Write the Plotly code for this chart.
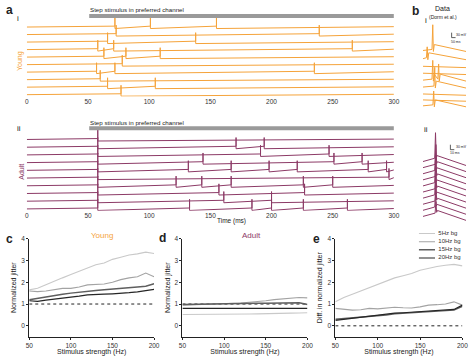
import plotly.graph_objects as go

W, H = 474, 356
FONT = "Liberation Sans, Arial, sans-serif"
ORANGE = "#F5A33A"
PURPLE = "#8C3A66"

# ---------------- data ----------------
# panel a: spike times (ms) of 10 model neurons per group
young_spikes = [
    [72, 101, 155],
    [73, 239],
    [66, 138],
    [58, 71, 266],
    [63, 81, 109],
    [78],
    [57, 72, 235],
    [60],
    [66, 105],
    [77],
]
adult_spikes = [
    [58],
    [58, 171, 194],
    [58, 191, 247],
    [58, 144, 251, 274],
    [58, 132, 167, 198, 221, 279, 294],
    [58, 296],
    [58, 122, 143, 167, 226, 250],
    [58, 157, 227],
    [58, 161, 200],
    [58, 133, 184, 200, 226, 262],
]
stim_onset = 51
trial_end = 300
time_ticks = [0, 50, 100, 150, 200, 250, 300]

# panel b: recorded data (spike times ms, peak amplitudes mV)
young_data_spikes = [[125], [54], [], [], [125, 200], [150], [], [], [137]]
young_data_peaks = [[156], [72], [], [], [120, 98], [120], [], [], [90]]
adult_data_spikes = [[32], [33], [32], [33], [32], [33], [32], [33], [32], [33]]
adult_data_peaks = [[175], [140], [120], [150], [130], [110], [140], [120], [100], [90]]

# panels c-e: normalized jitter vs stimulus strength
stim = [50, 60, 70, 80, 90, 100, 110, 120, 130, 140, 150, 160, 170, 180, 190, 200]
bg_labels = ["5Hz bg", "10Hz bg", "15Hz bg", "20Hz bg"]
young_jitter = [
    [1.65, 1.72, 1.88, 2.05, 2.2, 2.35, 2.5, 2.65, 2.8, 2.88, 3.05, 3.15, 3.25, 3.3, 3.38, 3.32],
    [1.6, 1.57, 1.6, 1.65, 1.72, 1.72, 1.78, 1.88, 1.9, 1.92, 2.0, 2.12, 2.2, 2.25, 2.42, 2.25],
    [1.2, 1.27, 1.33, 1.4, 1.45, 1.5, 1.55, 1.6, 1.62, 1.65, 1.68, 1.7, 1.72, 1.78, 1.82, 1.93],
    [1.15, 1.12, 1.18, 1.22, 1.26, 1.3, 1.36, 1.42, 1.42, 1.45, 1.47, 1.48, 1.52, 1.56, 1.6, 1.67],
]
adult_jitter = [
    [0.52, 0.52, 0.52, 0.51, 0.51, 0.52, 0.52, 0.53, 0.54, 0.55, 0.55, 0.56, 0.57, 0.58, 0.59, 0.6],
    [0.95, 0.96, 0.98, 0.98, 1.0, 1.0, 1.02, 1.05, 1.08, 1.1, 1.15, 1.2, 1.23, 1.27, 1.3, 1.28],
    [0.98, 0.99, 1.0, 1.0, 1.02, 1.02, 1.02, 1.03, 1.03, 1.04, 1.04, 1.05, 1.05, 1.06, 1.06, 0.98],
    [0.8, 0.79, 0.8, 0.8, 0.8, 0.8, 0.8, 0.8, 0.81, 0.81, 0.8, 0.8, 0.8, 0.81, 0.81, 0.8],
]
diff_jitter = [
    [1.1, 1.3, 1.45, 1.6, 1.78, 1.93, 2.05, 2.2, 2.3, 2.4, 2.55, 2.65, 2.72, 2.78, 2.82, 2.75],
    [0.8, 0.75, 0.72, 0.74, 0.8, 0.78, 0.8, 0.85, 0.83, 0.82, 0.87, 0.95, 0.97, 1.0, 1.1, 0.95],
    [0.3, 0.33, 0.36, 0.4, 0.44, 0.47, 0.5, 0.55, 0.57, 0.6, 0.63, 0.66, 0.68, 0.7, 0.72, 0.9],
    [0.25, 0.3, 0.35, 0.4, 0.45, 0.5, 0.55, 0.58, 0.6, 0.63, 0.65, 0.68, 0.7, 0.73, 0.75, 0.95],
]
jitter_ticks = [0, 1, 2, 3, 4]
stim_ticks = [50, 100, 150, 200]

# ---------------- styles ----------------
bg_colors = ["#c9c9c9", "#a3a3a3", "#5e5e5e", "#262626"]
bg_widths = [1.1, 1.1, 1.5, 1.2]


def px(x):
    return x / W


def py(y):
    return 1 - y / H


def model_trace(spikes, k, end):
    xs, ys = [0], [-k]
    for t in spikes:
        xs += [t, t, t + 0.01]
        ys += [-k + 0.12, -k + 1.25, -k - 0.2]
    xs.append(end)
    ys.append(-k + 0.05)
    return xs, ys


def young_data_trace(b, spikes, peaks, end):
    xs, ys = [0], [b]
    for t, p in zip(spikes, peaks):
        xs += [t - 10, t, t + 8, t + 20]
        ys += [b + 6, b + p, b - 6, b + 36]
    xs.append(end)
    ys.append(b - 6 if spikes else b - 8)
    return xs, ys


def adult_data_trace(b, spikes, peaks, end):
    xs, ys = [0], [b]
    for t, p in zip(spikes, peaks):
        xs += [t - 2, t, t + 2, t + 4]
        ys += [b + 20, b + p, b + 25, b + 36]
    xs.append(end)
    ys.append(b - 24)
    return xs, ys


fig = go.Figure()

# ---- panel a(i) young / a(ii) adult ----
for k, sp in enumerate(young_spikes):
    xs, ys = model_trace(sp, k, trial_end)
    fig.add_trace(go.Scatter(x=xs, y=ys, mode="lines", line=dict(color=ORANGE, width=1),
                             xaxis="x", yaxis="y", hoverinfo="skip"))
for k, sp in enumerate(adult_spikes):
    xs, ys = model_trace(sp, k, trial_end)
    fig.add_trace(go.Scatter(x=xs, y=ys, mode="lines", line=dict(color=PURPLE, width=1),
                             xaxis="x2", yaxis="y2", hoverinfo="skip"))
for xa, ya in (("x", "y"), ("x2", "y2")):
    fig.add_trace(go.Scatter(x=[stim_onset, trial_end], y=[1.47, 1.47], mode="lines",
                             line=dict(color="#9a9a9a", width=4), xaxis=xa, yaxis=ya,
                             hoverinfo="skip"))

# ---- panel b ----
for k, (sp, pk) in enumerate(zip(young_data_spikes, young_data_peaks)):
    b = [0, -50, -96, -138, -180, -222, -264, -300, -336][k]
    xs, ys = young_data_trace(b, sp, pk, 550)
    fig.add_trace(go.Scatter(x=xs, y=ys, mode="lines", line=dict(color=ORANGE, width=1),
                             xaxis="x3", yaxis="y3", hoverinfo="skip"))
for k, (sp, pk) in enumerate(zip(adult_data_spikes, adult_data_peaks)):
    b = -k * 37
    xs, ys = adult_data_trace(b, sp, pk, 110)
    fig.add_trace(go.Scatter(x=xs, y=ys, mode="lines", line=dict(color=PURPLE, width=1),
                             xaxis="x4", yaxis="y4", hoverinfo="skip"))
# scale bars
fig.add_trace(go.Scatter(x=[366, 366, 416], y=[108, 78, 78], mode="lines",
                         line=dict(color="#333", width=0.8), xaxis="x3", yaxis="y3", hoverinfo="skip"))
fig.add_trace(go.Scatter(x=[70, 70, 80], y=[102, 72, 72], mode="lines",
                         line=dict(color="#333", width=0.8), xaxis="x4", yaxis="y4", hoverinfo="skip"))

# ---- panels c, d, e ----
for series, (xa, ya), ref in ((young_jitter, ("x5", "y5"), 1),
                              (adult_jitter, ("x6", "y6"), 1),
                              (diff_jitter, ("x7", "y7"), 0)):
    fig.add_trace(go.Scatter(x=[stim[0], stim[-1]], y=[ref, ref], mode="lines",
                             line=dict(color="#222", width=1, dash="dot"),
                             xaxis=xa, yaxis=ya, hoverinfo="skip"))
    for i, vals in enumerate(series):
        fig.add_trace(go.Scatter(x=stim, y=vals, mode="lines",
                                 line=dict(color=bg_colors[i], width=bg_widths[i]),
                                 xaxis=xa, yaxis=ya, name=bg_labels[i], hoverinfo="skip"))

# legend (custom, small)
for i, lab in enumerate(bg_labels):
    fig.add_trace(go.Scatter(x=[0, 1], y=[i, i], mode="lines+text",
                             text=["", "  " + lab], textposition="middle right",
                             textfont=dict(family=FONT, size=6, color="#333"),
                             cliponaxis=False,
                             line=dict(color=bg_colors[i], width=bg_widths[i]),
                             xaxis="x8", yaxis="y8", hoverinfo="skip"))

hidden = dict(visible=False, showgrid=False, zeroline=False, fixedrange=True)

tickfont = dict(family=FONT, size=6.5, color="#333")
titlefont = dict(family=FONT, size=7, color="#222")


def time_axis(domain, anchor):
    return dict(domain=domain, range=[0, 300], anchor=anchor, tickvals=time_ticks,
                showline=False, showgrid=False, zeroline=False, ticks="",
                tickfont=tickfont, fixedrange=True)


def stim_axis(domain, anchor):
    return dict(domain=domain, range=[50, 200], anchor=anchor, tickvals=stim_ticks,
                showline=True, linecolor="#222", linewidth=1, ticks="outside", ticklen=2,
                tickwidth=1, tickcolor="#222", showgrid=False, zeroline=False,
                tickfont=tickfont, fixedrange=True,
                title=dict(text="Stimulus strength (Hz)", font=titlefont, standoff=2))


def jitter_axis(domain, anchor, title):
    return dict(domain=domain, range=[-0.5, 4], anchor=anchor, tickvals=jitter_ticks,
                showline=True, linecolor="#222", linewidth=1, ticks="outside", ticklen=2,
                tickwidth=1, tickcolor="#222", showgrid=False, zeroline=False,
                tickfont=tickfont, fixedrange=True,
                title=dict(text=title, font=titlefont, standoff=3))


bottom_dom = [py(336.5), py(237.3)]

layout = dict(
    width=W, height=H, margin=dict(l=0, r=0, t=0, b=0),
    paper_bgcolor="white", plot_bgcolor="white", showlegend=False,
    font=dict(family=FONT, color="#222"),
    xaxis=time_axis([px(23.3), px(398.3)], "y"),
    yaxis=dict(hidden, domain=[py(93.6), py(4.3)], range=[-9.25, 2.5], anchor="x"),
    xaxis2=time_axis([px(23.3), px(398.3)], "y2"),
    yaxis2=dict(hidden, domain=[py(209.2), py(117.5)], range=[-9.25, 2.5], anchor="x2"),
    xaxis3=dict(hidden, domain=[px(428), px(472)], range=[0, 550], anchor="y3"),
    yaxis3=dict(hidden, domain=[py(112), py(15)], range=[-390, 192], anchor="x3"),
    xaxis4=dict(hidden, domain=[px(428), px(472)], range=[0, 110], anchor="y4"),
    yaxis4=dict(hidden, domain=[py(220), py(122)], range=[-364, 224], anchor="x4"),
    xaxis5=stim_axis([px(25.8), px(153.3)], "y5"),
    yaxis5=jitter_axis(bottom_dom, "x5", "Normalized jitter"),
    xaxis6=stim_axis([px(182.3), px(310)], "y6"),
    yaxis6=jitter_axis(bottom_dom, "x6", "Normalized jitter"),
    xaxis7=stim_axis([px(338.5), px(468.3)], "y7"),
    yaxis7=jitter_axis(bottom_dom, "x7", "Diff. in normalized jitter"),
    xaxis8=dict(hidden, domain=[px(423.7), px(440.3)], range=[0, 1], anchor="y8"),
    yaxis8=dict(hidden, domain=[py(261), py(228)], range=[3.5, -0.5], anchor="x8"),
)
fig.update_layout(**layout)

ann = []


def add_text(text, x, y, size=7, color="#222", bold=False, xanchor="center", angle=0):
    ann.append(dict(text=("<b>%s</b>" % text) if bold else text,
                    x=x, y=y, xref="paper", yref="paper", xanchor=xanchor, yanchor="middle",
                    showarrow=False, textangle=angle, borderpad=0,
                    font=dict(family=FONT, size=size, color=color)))


# panel labels
add_text("a", px(1), py(6), size=12, bold=True, xanchor="left")
add_text("i", px(12), py(15), size=8, xanchor="left")
add_text("ii", px(12), py(126), size=8, xanchor="left")
add_text("b", px(416), py(7), size=12, bold=True, xanchor="left")
add_text("i", px(429), py(17), size=8, xanchor="left")
add_text("ii", px(428), py(127), size=8, xanchor="left")
add_text("c", px(1), py(238), size=12, bold=True, xanchor="left")
add_text("d", px(157), py(237), size=12, bold=True, xanchor="left")
add_text("e", px(315), py(238), size=12, bold=True, xanchor="left")

# a texts
add_text("Step stimulus in preferred channel", px(87), py(6), size=6.2, xanchor="left")
add_text("Step stimulus in preferred channel", px(87), py(120), size=6.2, xanchor="left")
add_text("Young", px(17), py(58), size=7, color=ORANGE, angle=-90)
add_text("Adult", px(17), py(170), size=7, color=PURPLE, angle=-90)
add_text("Time (ms)", px(232), py(219), size=6.5)

# b texts
add_text("Data", px(448), py(5), size=7)
add_text("(Dorm et al.)", px(448), py(13), size=5)
add_text("30 mV", px(461), py(31), size=3.5, xanchor="left")
add_text("50 ms", px(456), py(38.5), size=3.5, xanchor="left")
add_text("30 mV", px(460.5), py(145), size=3.5, xanchor="left")
add_text("10 ms", px(455), py(150.5), size=3.5, xanchor="left")

# c/d titles
add_text("Young", px(100), py(234), size=8, color=ORANGE)
add_text("Adult", px(253), py(234), size=8, color=PURPLE)

fig.update_layout(annotations=ann)
fig.write_html("out.html",
               config={"displayModeBar": False, "staticPlot": True},
               post_script="document.body.style.margin='0px';document.body.style.overflow='hidden';")
